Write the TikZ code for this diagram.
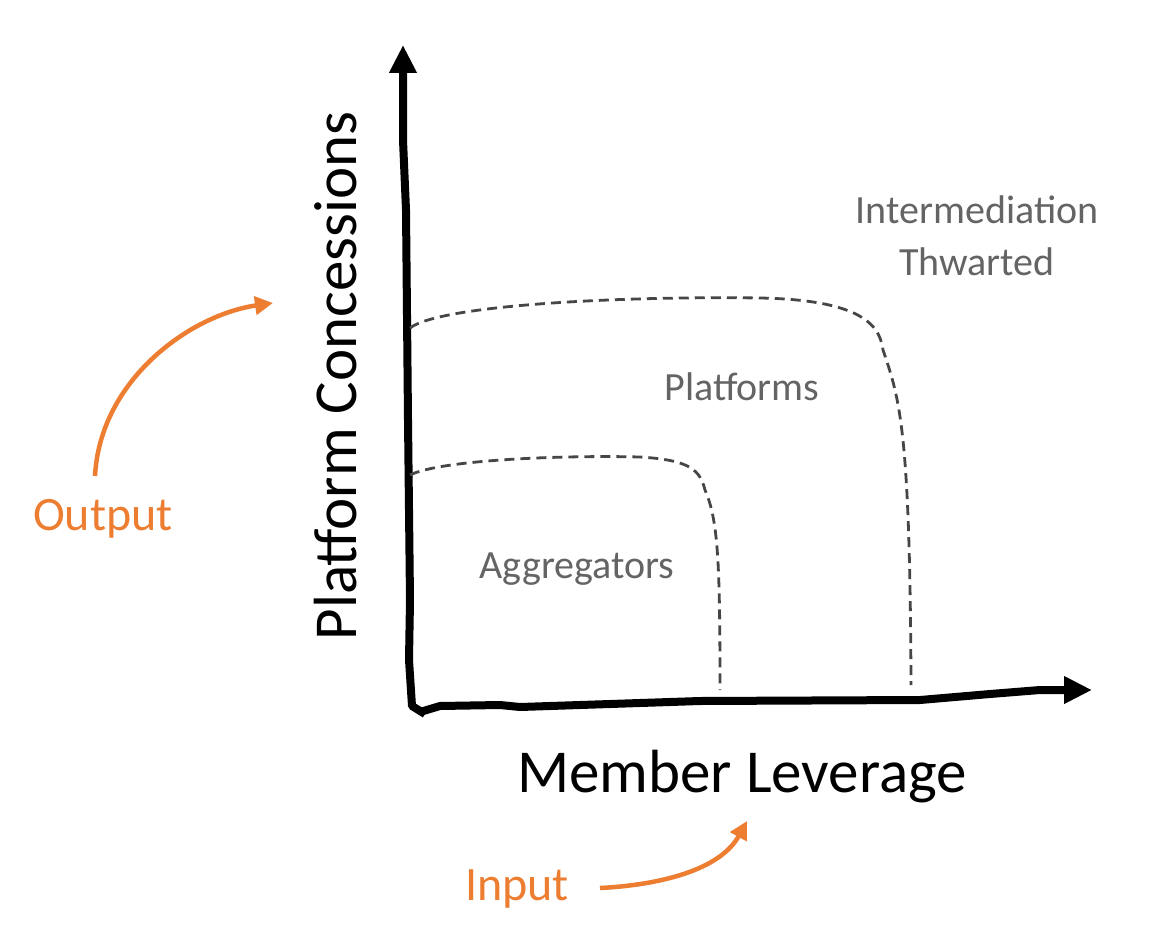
\documentclass[tikz,border=0pt]{standalone}
\usepackage{fontspec}
\setmainfont{Carlito}
\usetikzlibrary{arrows.meta}
\definecolor{org}{RGB}{237,125,49}
\definecolor{gr}{RGB}{100,100,100}
\definecolor{dgr}{RGB}{70,70,70}
\begin{document}
\begin{tikzpicture}[x=1pt,y=-1pt,
 axis/.style={line width=8pt,-{Triangle[length=28pt,width=26pt]},line join=round},
 dline/.style={dgr,line width=2.8pt,dash pattern=on 10pt off 6pt},
 glab/.style={text=gr,font=\fontsize{40}{52}\selectfont,align=center},
 olab/.style={text=org,font=\fontsize{48}{52}\selectfont},
 oarr/.style={org,line width=4.5pt,-{Triangle[length=18pt,width=18pt]}}]
\useasboundingbox (0,0) rectangle (1170,934);
\coordinate (ytop) at (403,45);
\coordinate (xend) at (1092,690);
\draw[axis] (425,714) -- (412,706) -- (409,660) -- (410,600) -- (408,420) -- (406,210) -- (403,140) -- (403,90) -- (ytop);
\draw[axis] (420,712) -- (440,706) -- (500,705) -- (520,707) -- (700,701) -- (920,700) -- (990,694) -- (1040,690) -- (xend);
\node[rotate=90,font=\fontsize{61}{64}\selectfont] (yl) at (336,376) {Platform Concessions};
\node[font=\fontsize{61}{64}\selectfont] (xl) at (742,777) {Member Leverage};
\draw[dline] (410,328) .. controls (440,305) and (620,296) .. (760,298) .. controls (870,300) and (880,330) .. (883,350) .. controls (900,400) and (910,430) .. (911,685);
\draw[dline] (410,475) .. controls (440,460) and (560,455) .. (640,457) .. controls (690,460) and (700,470) .. (705,490) .. controls (718,520) and (720,560) .. (720,690);
\node[glab] (it) at (977,236) {Intermediation\\Thwarted};
\node[glab] (pl) at (742,387) {Platforms};
\node[glab] (ag) at (577,569) {Aggregators};
\node[olab] (out) at (103,519) {Output};
\node[olab] (in) at (517,889) {Input};
\coordinate (oa) at (273,303);
\coordinate (ia) at (747,821);
\draw[oarr] (95,476) .. controls (100,380) and (190,315) .. (oa);
\draw[oarr] (600,888) .. controls (660,885) and (720,870) .. (ia);
\end{tikzpicture}
\end{document}
